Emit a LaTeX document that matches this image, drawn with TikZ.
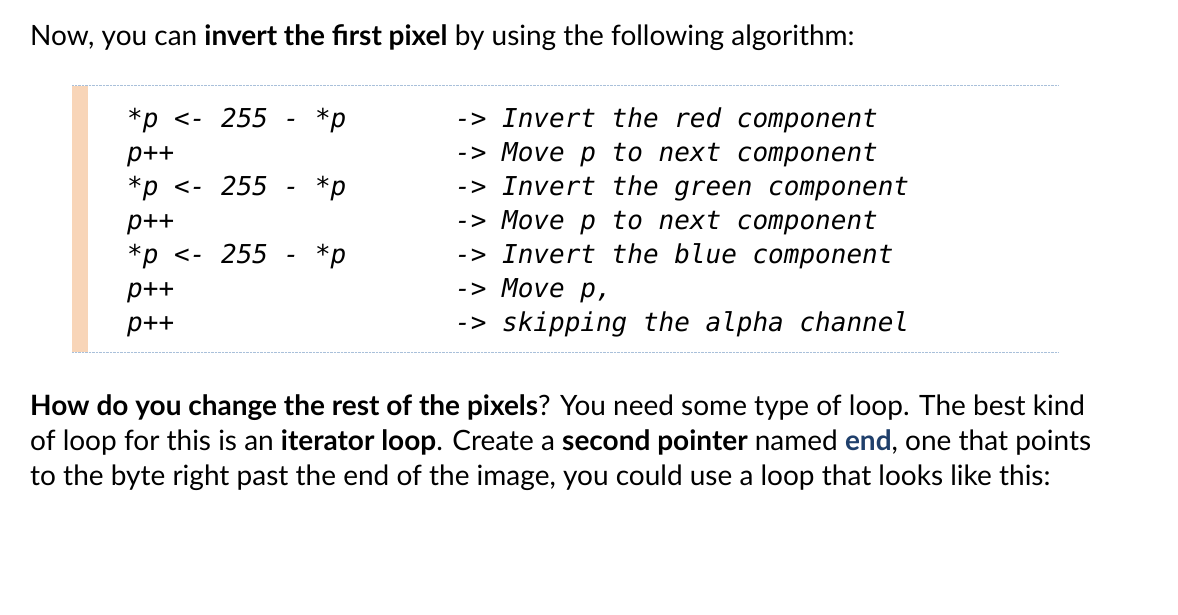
\documentclass[tikz,border=0pt]{standalone}
\usepackage{fontspec}
\setmainfont{Lato}
\newfontfamily\codefont{DejaVu Sans Mono}
\begin{document}
\begin{tikzpicture}[x=1pt,y=-1pt,
  body/.style={anchor=base west,inner sep=0pt,font=\fontsize{28}{32}\selectfont},
  code/.style={anchor=base west,inner sep=0pt,font=\codefont\itshape\fontsize{26}{30}\selectfont}]
\definecolor{barc}{HTML}{F8D5B8}
\definecolor{endc}{HTML}{1F3F6B}
\definecolor{dotc}{HTML}{A9C0DA}
\useasboundingbox[fill=white] (0,0) rectangle (1178,614);
\node[body] (t1) at (30,45) {Now, you can \textbf{invert the first pixel} by using the following algorithm:};
\fill[barc] (72,86) rectangle (88,352);
\draw[dotc,densely dotted] (72,85) -- (1058,85);
\draw[dotc,densely dotted] (72,352) -- (1058,352);
\foreach \i/\a/\b in {0/{*p <- 255 - *p}/{-> Invert the red component},
  1/{p++}/{-> Move p to next component},
  2/{*p <- 255 - *p}/{-> Invert the green component},
  3/{p++}/{-> Move p to next component},
  4/{*p <- 255 - *p}/{-> Invert the blue component},
  5/{p++}/{-> Move p,},
  6/{p++}/{-> skipping the alpha channel}}{
  \node[code] (a\i) at (127,127+34*\i) {\a};
  \node[code] (b\i) at (455,127+34*\i) {\b};
}
\node[body] (p1) at (30,415) {\textbf{How do you change the rest of the pixels}? You need some type of loop. The best kind};
\node[body] (p2) at (30,450) {of loop for this is an \textbf{iterator loop}. Create a \textbf{second pointer} named \textbf{\textcolor{endc}{end}}, one that points};
\node[body] (p3) at (30,485) {to the byte right past the end of the image, you could use a loop that looks like this:};
\end{tikzpicture}
\end{document}
